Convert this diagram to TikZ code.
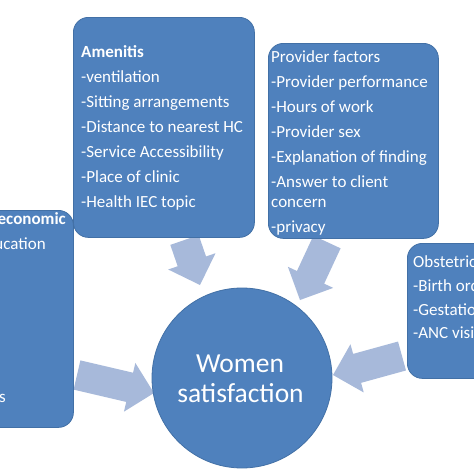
\documentclass[tikz,border=0pt]{standalone}
\usepackage{fontspec}
\setmainfont{Carlito}
\usetikzlibrary{calc}
\definecolor{boxblue}{RGB}{79,129,189}
\definecolor{boxedge}{RGB}{66,112,166}
\definecolor{arrowblue}{RGB}{167,185,218}
\newcommand\blockarrow[2]{%
  \coordinate (#1h) at ($(#2)!25pt!(#1)$);
  \fill[arrowblue]
    ($(#1)!15pt!90:(#2)$) -- ($(#1h)!15pt!-90:(#1)$) -- ($(#1h)!25pt!-90:(#1)$) -- (#2)
    -- ($(#1h)!25pt!90:(#1)$) -- ($(#1h)!15pt!90:(#1)$) -- ($(#1)!15pt!-90:(#2)$) -- cycle;
}
\begin{document}
\begin{tikzpicture}[x=1pt,y=-1pt,
  panel/.style={draw=boxedge, line width=0.8pt, fill=boxblue, rounded corners=15pt, anchor=north west, inner sep=0pt},
  itemtext/.style={text=white, font=\fontsize{17}{20}\selectfont, anchor=base west, inner sep=0pt},
  headtext/.style={itemtext, font=\fontsize{17}{20}\selectfont\bfseries},
  bigtext/.style={text=white, font=\fontsize{27.5}{30}\selectfont, anchor=base, inner sep=0pt}]
\useasboundingbox (0,0) rectangle (474,474);
\clip (0,0) rectangle (474,474);
\fill[white] (0,0) rectangle (474,474);

% arrow end points
\coordinate (a1s) at (184.5,240);
\coordinate (a1t) at (200,285);
\coordinate (a2s) at (327,242);
\coordinate (a2t) at (300,300);
\coordinate (a3s) at (77,375);
\coordinate (a3t) at (154,393);
\coordinate (a4s) at (402,356);
\coordinate (a4t) at (333,375);
\blockarrow{a1s}{a1t}
\blockarrow{a2s}{a2t}
\blockarrow{a3s}{a3t}
\blockarrow{a4s}{a4t}

% boxes
\node[panel, minimum width=181pt, minimum height=220pt] (amen) at (73,17) {};
\node[panel, minimum width=170pt, minimum height=195pt] (prov) at (268,43) {};
\node[panel, minimum width=103pt, minimum height=217pt] (socio) at (-30,210) {};
\node[panel, minimum width=100pt, minimum height=135pt] (obst) at (407,243) {};

% circle
\node[circle, draw=boxedge, line width=0.8pt, fill=boxblue, minimum size=180pt, inner sep=0pt] (ws) at (242,378) {};
\node[bigtext] (ws1) at (240,372) {Women};
\node[bigtext] (ws2) at (240.5,402) {satisfaction};

% Amenitis text
\node[headtext] (am0) at (81,57) {Amenitis};
\foreach \t [count=\i] in {-ventilation,-Sitting arrangements,-Distance to nearest HC,-Service Accessibility,-Place of clinic,-Health IEC topic}
  \node[itemtext] (am\i) at (81,57+25*\i) {\t};

% Provider text
\node[itemtext] (pv0) at (271,62) {Provider factors};
\node[itemtext] (pv1) at (271,87) {-Provider performance};
\node[itemtext] (pv2) at (271,112) {-Hours of work};
\node[itemtext] (pv3) at (271,137) {-Provider sex};
\node[itemtext] (pv4) at (271,162) {-Explanation of finding};
\node[itemtext] (pv5) at (271,187) {-Answer to client};
\node[itemtext] (pv6) at (271,207) {concern};
\node[itemtext] (pv7) at (271,232) {-privacy};

% left box text (cut by the picture edge)
\node[headtext, anchor=base east] (so0) at (66,224) {economic};
\node[itemtext, anchor=base east] (so1) at (46,249) {ucation};
\node[itemtext, anchor=base east] (so2) at (6,402) {s};

% right box text (cut by the picture edge)
\node[itemtext] (ob0) at (413,267) {Obstetric};
\node[itemtext] (ob1) at (413,291) {-Birth ord};
\node[itemtext] (ob2) at (413,315) {-Gestation};
\node[itemtext] (ob3) at (413,338) {-ANC visit};
\end{tikzpicture}
\end{document}
